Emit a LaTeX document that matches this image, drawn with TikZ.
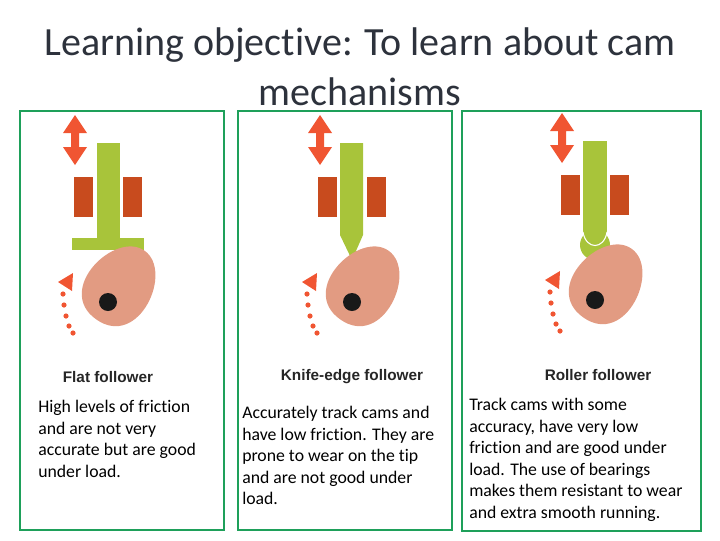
\documentclass[tikz,border=0pt]{standalone}
\usepackage{fontspec}
\setmainfont[Ligatures={NoCommon}]{Carlito}
\newfontfamily\labelfont{Liberation Sans}
\usetikzlibrary{positioning}
\definecolor{boxgreen}{RGB}{30,160,90}
\definecolor{arrowred}{RGB}{240,85,50}
\definecolor{bushbrown}{RGB}{200,75,30}
\definecolor{stemgreen}{RGB}{168,196,58}
\definecolor{campink}{RGB}{226,155,130}
\definecolor{titlegrey}{RGB}{45,50,60}
\tikzset{
  panel/.style={draw=boxgreen, line width=2.2pt},
  caption/.style={font=\labelfont\bfseries\fontsize{11.5}{13}\selectfont, text=black!85},
  body/.style={font=\fontsize{13.3}{16.2}\selectfont, align=left, anchor=north west, inner sep=0pt},
  pics/updown/.style={code={
    \fill[arrowred] (0,-25) -- (12,-7) -- (4,-7) -- (4,7) -- (12,7) -- (0,25) -- (-12,7) -- (-4,7) -- (-4,-7) -- (-12,-7) -- cycle;
  }},
  pics/bushes/.style={code={
    \fill[bushbrown] (-34,-20) rectangle (-15,20);
    \fill[bushbrown] (15,-20) rectangle (34,20);
  }},
  pics/cam/.style={code={
    \begin{scope}[shift={(9,-12)}, rotate=55]
      \fill[campink] (-36,0) .. controls (-36,-52) and (48,-36) .. (48,0) .. controls (48,36) and (-36,52) .. (-36,0);
    \end{scope}
    \fill[black!90] (0,0) circle (9);
    \foreach \p in {(-45,-8),(-44,3),(-42,14),(-39,24),(-35,31)} \fill[arrowred] \p circle (2.6);
    \fill[arrowred] (-50,-20) -- (-35,-29) -- (-36,-11) -- cycle;
  }}
}
\begin{document}
\begin{tikzpicture}[x=0.75pt, y=-0.75pt]
  \useasboundingbox (0,0) rectangle (720,540);
  % Title
  \node (title1) at (360,45) {\fontsize{30}{36}\selectfont\color{titlegrey}Learning objective: To learn about cam};
  \node (title2) at (360,92) {\fontsize{30}{36}\selectfont\color{titlegrey}mechanisms};
  % Panels
  \draw[panel] (20,111) rectangle (224,530);
  \draw[panel] (238,111) rectangle (452,530);
  \draw[panel] (462,111) rectangle (701,531);
  % Flat follower
  \pic at (75,140) {updown};
  \fill[stemgreen] (97,143) rectangle (120,238);
  \fill[stemgreen] (72,238) rectangle (144,250);
  \pic at (108,197) {bushes};
  \pic at (108,302) {cam};
  \node (cap-flat) [caption] at (108,377) {Flat follower};
  % Knife-edge follower
  \pic at (320,140) {updown};
  \fill[stemgreen] (340,143) -- (363,143) -- (363,235) -- (352,260) -- (340,235) -- cycle;
  \pic at (352,197) {bushes};
  \pic at (352,302) {cam};
  \node (cap-knife) [caption] at (352,377) {Knife-edge follower};
  % Roller follower
  \pic at (562,138) {updown};
  \fill[stemgreen] (595,245) circle (15);
  \fill[stemgreen] (583,141) rectangle (607,236);
  \draw[white, line width=0.8pt] (583,232) .. controls (586,250) and (604,250) .. (607,232);
  \pic at (595,195) {bushes};
  \pic at (595,300) {cam};
  \node (cap-roller) [caption] at (598,375) {Roller follower};
  % Texts
  \node (text-flat) [body] at (38,400) {High levels of friction\\and are not very\\accurate but are good\\under load.};
  \node (text-knife) [body] at (242,406) {Accurately track cams and\\have low friction.  They are\\prone to wear on the tip\\and are not good under\\load.};
  \node (text-roller) [body] at (469,398) {Track cams with some\\accuracy, have very low\\friction and are good under\\load.  The use of bearings\\makes them resistant to wear\\and extra smooth running.};
\end{tikzpicture}
\end{document}
